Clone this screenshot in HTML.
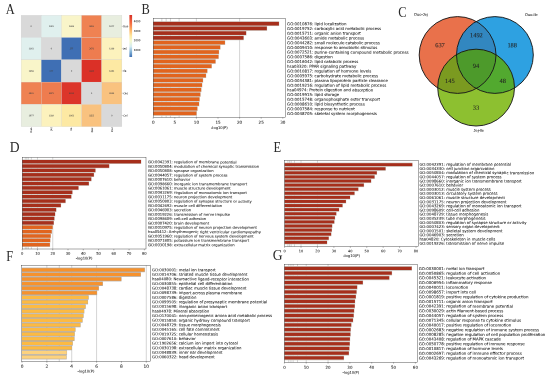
<!DOCTYPE html>
<html><head><meta charset="utf-8"><title>Figure</title>
<style>html,body{margin:0;padding:0;background:#fff}svg{display:block}</style></head>
<body>
<svg width="550" height="378" viewBox="0 0 550 378">
<rect width="550" height="378" fill="#ffffff"/>
<defs><filter id="soft" filterUnits="userSpaceOnUse" x="-10" y="-10" width="570" height="398" color-interpolation-filters="sRGB"><feGaussianBlur stdDeviation="0.4"/></filter></defs>
<g filter="url(#soft)">
<rect x="-10" y="-10" width="570" height="398" fill="#ffffff"/>
<text transform="translate(5.8,13.7) scale(0.89,1)" font-family="Liberation Serif, serif" font-size="14.0" fill="#2a2a2a">A</text>
<text transform="translate(141.4,13.7) scale(0.89,1)" font-family="Liberation Serif, serif" font-size="14.0" fill="#2a2a2a">B</text>
<text transform="translate(398.3,16.6) scale(0.89,1)" font-family="Liberation Serif, serif" font-size="14.0" fill="#2a2a2a">C</text>
<text transform="translate(9.7,151.7) scale(0.97,1)" font-family="Liberation Serif, serif" font-size="14.0" fill="#2a2a2a">D</text>
<text transform="translate(273.6,151.7) scale(0.89,1)" font-family="Liberation Serif, serif" font-size="14.0" fill="#2a2a2a">E</text>
<text transform="translate(6.2,261.3) scale(0.89,1)" font-family="Liberation Serif, serif" font-size="14.0" fill="#2a2a2a">F</text>
<text transform="translate(272.7,259.9) scale(0.97,1)" font-family="Liberation Serif, serif" font-size="14.0" fill="#2a2a2a">G</text>
<rect x="21.10" y="15.25" width="20.20" height="22.33" fill="#d9d9d9" stroke="#cfcfcf" stroke-width="0.25"/>
<text transform="translate(31.18,27.09) skewY(0.03) scale(0.1)" font-family="DejaVu Sans, Liberation Sans, sans-serif" font-size="19.00" text-anchor="middle" fill="#444" stroke="#444" stroke-width="0.50">0</text>
<rect x="41.25" y="15.25" width="20.20" height="22.33" fill="#e0f0ee" stroke="#cfcfcf" stroke-width="0.25"/>
<text transform="translate(51.33,27.09) skewY(0.03) scale(0.1)" font-family="DejaVu Sans, Liberation Sans, sans-serif" font-size="19.00" text-anchor="middle" fill="#444" stroke="#444" stroke-width="0.50">1261</text>
<rect x="61.40" y="15.25" width="20.20" height="22.33" fill="#f9f5c9" stroke="#cfcfcf" stroke-width="0.25"/>
<text transform="translate(71.47,27.09) skewY(0.03) scale(0.1)" font-family="DejaVu Sans, Liberation Sans, sans-serif" font-size="19.00" text-anchor="middle" fill="#444" stroke="#444" stroke-width="0.50">1869</text>
<rect x="81.55" y="15.25" width="20.20" height="22.33" fill="#ef8252" stroke="#cfcfcf" stroke-width="0.25"/>
<text transform="translate(91.62,27.09) skewY(0.03) scale(0.1)" font-family="DejaVu Sans, Liberation Sans, sans-serif" font-size="19.00" text-anchor="middle" fill="#444" stroke="#444" stroke-width="0.50">3622</text>
<rect x="101.70" y="15.25" width="20.20" height="22.33" fill="#e8eedf" stroke="#cfcfcf" stroke-width="0.25"/>
<text transform="translate(111.77,27.09) skewY(0.03) scale(0.1)" font-family="DejaVu Sans, Liberation Sans, sans-serif" font-size="19.00" text-anchor="middle" fill="#444" stroke="#444" stroke-width="0.50">1677</text>
<line x1="121.85" y1="26.39" x2="122.75" y2="26.39" stroke="#333" stroke-width="0.3"/>
<text transform="translate(123.35,27.29) skewY(0.03) scale(0.1)" font-family="DejaVu Sans, Liberation Sans, sans-serif" font-size="25.00" text-anchor="start" fill="#222" stroke="#222" stroke-width="0.50">Duo</text>
<rect x="21.10" y="37.53" width="20.20" height="22.33" fill="#e0f0ee" stroke="#cfcfcf" stroke-width="0.25"/>
<text transform="translate(31.18,49.37) skewY(0.03) scale(0.1)" font-family="DejaVu Sans, Liberation Sans, sans-serif" font-size="19.00" text-anchor="middle" fill="#444" stroke="#444" stroke-width="0.50">1261</text>
<rect x="41.25" y="37.53" width="20.20" height="22.33" fill="#d9d9d9" stroke="#cfcfcf" stroke-width="0.25"/>
<text transform="translate(51.33,49.37) skewY(0.03) scale(0.1)" font-family="DejaVu Sans, Liberation Sans, sans-serif" font-size="19.00" text-anchor="middle" fill="#444" stroke="#444" stroke-width="0.50">0</text>
<rect x="61.40" y="37.53" width="20.20" height="22.33" fill="#3f6fb4" stroke="#cfcfcf" stroke-width="0.25"/>
<text transform="translate(71.47,49.37) skewY(0.03) scale(0.1)" font-family="DejaVu Sans, Liberation Sans, sans-serif" font-size="19.00" text-anchor="middle" fill="#444" stroke="#444" stroke-width="0.50">377</text>
<rect x="81.55" y="37.53" width="20.20" height="22.33" fill="#ee7c4f" stroke="#cfcfcf" stroke-width="0.25"/>
<text transform="translate(91.62,49.37) skewY(0.03) scale(0.1)" font-family="DejaVu Sans, Liberation Sans, sans-serif" font-size="19.00" text-anchor="middle" fill="#444" stroke="#444" stroke-width="0.50">3671</text>
<rect x="101.70" y="37.53" width="20.20" height="22.33" fill="#fcf2bd" stroke="#cfcfcf" stroke-width="0.25"/>
<text transform="translate(111.77,49.37) skewY(0.03) scale(0.1)" font-family="DejaVu Sans, Liberation Sans, sans-serif" font-size="19.00" text-anchor="middle" fill="#444" stroke="#444" stroke-width="0.50">1289</text>
<line x1="121.85" y1="48.67" x2="122.75" y2="48.67" stroke="#333" stroke-width="0.3"/>
<text transform="translate(123.35,49.57) skewY(0.03) scale(0.1)" font-family="DejaVu Sans, Liberation Sans, sans-serif" font-size="25.00" text-anchor="start" fill="#222" stroke="#222" stroke-width="0.50">Jej</text>
<rect x="21.10" y="59.81" width="20.20" height="22.33" fill="#f9f5c9" stroke="#cfcfcf" stroke-width="0.25"/>
<text transform="translate(31.18,71.65) skewY(0.03) scale(0.1)" font-family="DejaVu Sans, Liberation Sans, sans-serif" font-size="19.00" text-anchor="middle" fill="#444" stroke="#444" stroke-width="0.50">1869</text>
<rect x="41.25" y="59.81" width="20.20" height="22.33" fill="#3f6fb4" stroke="#cfcfcf" stroke-width="0.25"/>
<text transform="translate(51.33,71.65) skewY(0.03) scale(0.1)" font-family="DejaVu Sans, Liberation Sans, sans-serif" font-size="19.00" text-anchor="middle" fill="#444" stroke="#444" stroke-width="0.50">377</text>
<rect x="61.40" y="59.81" width="20.20" height="22.33" fill="#d9d9d9" stroke="#cfcfcf" stroke-width="0.25"/>
<text transform="translate(71.47,71.65) skewY(0.03) scale(0.1)" font-family="DejaVu Sans, Liberation Sans, sans-serif" font-size="19.00" text-anchor="middle" fill="#444" stroke="#444" stroke-width="0.50">0</text>
<rect x="81.55" y="59.81" width="20.20" height="22.33" fill="#db3027" stroke="#cfcfcf" stroke-width="0.25"/>
<text transform="translate(91.62,71.65) skewY(0.03) scale(0.1)" font-family="DejaVu Sans, Liberation Sans, sans-serif" font-size="19.00" text-anchor="middle" fill="#444" stroke="#444" stroke-width="0.50">4225</text>
<rect x="101.70" y="59.81" width="20.20" height="22.33" fill="#fde9a3" stroke="#cfcfcf" stroke-width="0.25"/>
<text transform="translate(111.77,71.65) skewY(0.03) scale(0.1)" font-family="DejaVu Sans, Liberation Sans, sans-serif" font-size="19.00" text-anchor="middle" fill="#444" stroke="#444" stroke-width="0.50">1861</text>
<line x1="121.85" y1="70.95" x2="122.75" y2="70.95" stroke="#333" stroke-width="0.3"/>
<text transform="translate(123.35,71.85) skewY(0.03) scale(0.1)" font-family="DejaVu Sans, Liberation Sans, sans-serif" font-size="25.00" text-anchor="start" fill="#222" stroke="#222" stroke-width="0.50">Ile</text>
<rect x="21.10" y="82.09" width="20.20" height="22.33" fill="#ef8252" stroke="#cfcfcf" stroke-width="0.25"/>
<text transform="translate(31.18,93.93) skewY(0.03) scale(0.1)" font-family="DejaVu Sans, Liberation Sans, sans-serif" font-size="19.00" text-anchor="middle" fill="#444" stroke="#444" stroke-width="0.50">3622</text>
<rect x="41.25" y="82.09" width="20.20" height="22.33" fill="#ee7c4f" stroke="#cfcfcf" stroke-width="0.25"/>
<text transform="translate(51.33,93.93) skewY(0.03) scale(0.1)" font-family="DejaVu Sans, Liberation Sans, sans-serif" font-size="19.00" text-anchor="middle" fill="#444" stroke="#444" stroke-width="0.50">3671</text>
<rect x="61.40" y="82.09" width="20.20" height="22.33" fill="#dc352a" stroke="#cfcfcf" stroke-width="0.25"/>
<text transform="translate(71.47,93.93) skewY(0.03) scale(0.1)" font-family="DejaVu Sans, Liberation Sans, sans-serif" font-size="19.00" text-anchor="middle" fill="#444" stroke="#444" stroke-width="0.50">4225</text>
<rect x="81.55" y="82.09" width="20.20" height="22.33" fill="#d9d9d9" stroke="#cfcfcf" stroke-width="0.25"/>
<text transform="translate(91.62,93.93) skewY(0.03) scale(0.1)" font-family="DejaVu Sans, Liberation Sans, sans-serif" font-size="19.00" text-anchor="middle" fill="#444" stroke="#444" stroke-width="0.50">0</text>
<rect x="101.70" y="82.09" width="20.20" height="22.33" fill="#f9c27f" stroke="#cfcfcf" stroke-width="0.25"/>
<text transform="translate(111.77,93.93) skewY(0.03) scale(0.1)" font-family="DejaVu Sans, Liberation Sans, sans-serif" font-size="19.00" text-anchor="middle" fill="#444" stroke="#444" stroke-width="0.50">2553</text>
<line x1="121.85" y1="93.23" x2="122.75" y2="93.23" stroke="#333" stroke-width="0.3"/>
<text transform="translate(123.35,94.13) skewY(0.03) scale(0.1)" font-family="DejaVu Sans, Liberation Sans, sans-serif" font-size="25.00" text-anchor="start" fill="#222" stroke="#222" stroke-width="0.50">Cec</text>
<rect x="21.10" y="104.37" width="20.20" height="22.33" fill="#e8eedf" stroke="#cfcfcf" stroke-width="0.25"/>
<text transform="translate(31.18,116.21) skewY(0.03) scale(0.1)" font-family="DejaVu Sans, Liberation Sans, sans-serif" font-size="19.00" text-anchor="middle" fill="#444" stroke="#444" stroke-width="0.50">1677</text>
<rect x="41.25" y="104.37" width="20.20" height="22.33" fill="#fcf2bd" stroke="#cfcfcf" stroke-width="0.25"/>
<text transform="translate(51.33,116.21) skewY(0.03) scale(0.1)" font-family="DejaVu Sans, Liberation Sans, sans-serif" font-size="19.00" text-anchor="middle" fill="#444" stroke="#444" stroke-width="0.50">1289</text>
<rect x="61.40" y="104.37" width="20.20" height="22.33" fill="#fde9a3" stroke="#cfcfcf" stroke-width="0.25"/>
<text transform="translate(71.47,116.21) skewY(0.03) scale(0.1)" font-family="DejaVu Sans, Liberation Sans, sans-serif" font-size="19.00" text-anchor="middle" fill="#444" stroke="#444" stroke-width="0.50">1861</text>
<rect x="81.55" y="104.37" width="20.20" height="22.33" fill="#f9c27f" stroke="#cfcfcf" stroke-width="0.25"/>
<text transform="translate(91.62,116.21) skewY(0.03) scale(0.1)" font-family="DejaVu Sans, Liberation Sans, sans-serif" font-size="19.00" text-anchor="middle" fill="#444" stroke="#444" stroke-width="0.50">2553</text>
<rect x="101.70" y="104.37" width="20.20" height="22.33" fill="#d9d9d9" stroke="#cfcfcf" stroke-width="0.25"/>
<text transform="translate(111.77,116.21) skewY(0.03) scale(0.1)" font-family="DejaVu Sans, Liberation Sans, sans-serif" font-size="19.00" text-anchor="middle" fill="#444" stroke="#444" stroke-width="0.50">0</text>
<line x1="121.85" y1="115.51" x2="122.75" y2="115.51" stroke="#333" stroke-width="0.3"/>
<text transform="translate(123.35,116.41) skewY(0.03) scale(0.1)" font-family="DejaVu Sans, Liberation Sans, sans-serif" font-size="25.00" text-anchor="start" fill="#222" stroke="#222" stroke-width="0.50">Col</text>
<text transform="translate(32.08,127.65) rotate(-90) scale(0.1)" font-family="DejaVu Sans, Liberation Sans, sans-serif" font-size="25" text-anchor="end" fill="#222" stroke="#222" stroke-width="0.5">Duo</text>
<text transform="translate(52.23,127.65) rotate(-90) scale(0.1)" font-family="DejaVu Sans, Liberation Sans, sans-serif" font-size="25" text-anchor="end" fill="#222" stroke="#222" stroke-width="0.5">Jej</text>
<text transform="translate(72.38,127.65) rotate(-90) scale(0.1)" font-family="DejaVu Sans, Liberation Sans, sans-serif" font-size="25" text-anchor="end" fill="#222" stroke="#222" stroke-width="0.5">Ile</text>
<text transform="translate(92.53,127.65) rotate(-90) scale(0.1)" font-family="DejaVu Sans, Liberation Sans, sans-serif" font-size="25" text-anchor="end" fill="#222" stroke="#222" stroke-width="0.5">Cec</text>
<text transform="translate(112.67,127.65) rotate(-90) scale(0.1)" font-family="DejaVu Sans, Liberation Sans, sans-serif" font-size="25" text-anchor="end" fill="#222" stroke="#222" stroke-width="0.5">Col</text>
<defs><linearGradient id="cb" x1="0" y1="0" x2="0" y2="1"><stop offset="0" stop-color="#d73027"/><stop offset="0.2" stop-color="#f46d43"/><stop offset="0.35" stop-color="#fdae61"/><stop offset="0.5" stop-color="#fee9a0"/><stop offset="0.62" stop-color="#f4f8d0"/><stop offset="0.75" stop-color="#d5ebf0"/><stop offset="0.88" stop-color="#7fb0d5"/><stop offset="1" stop-color="#3f6fb4"/></linearGradient></defs>
<rect x="129.4" y="15.0" width="2.7" height="42.0" fill="url(#cb)"/>
<text transform="translate(133.80,22.25) skewY(0.03) scale(0.1)" font-family="DejaVu Sans, Liberation Sans, sans-serif" font-size="26.00" text-anchor="start" fill="#222" stroke="#222" stroke-width="0.50">4000</text>
<text transform="translate(133.80,31.95) skewY(0.03) scale(0.1)" font-family="DejaVu Sans, Liberation Sans, sans-serif" font-size="26.00" text-anchor="start" fill="#222" stroke="#222" stroke-width="0.50">3000</text>
<text transform="translate(133.80,41.35) skewY(0.03) scale(0.1)" font-family="DejaVu Sans, Liberation Sans, sans-serif" font-size="26.00" text-anchor="start" fill="#222" stroke="#222" stroke-width="0.50">2000</text>
<text transform="translate(133.80,50.95) skewY(0.03) scale(0.1)" font-family="DejaVu Sans, Liberation Sans, sans-serif" font-size="26.00" text-anchor="start" fill="#222" stroke="#222" stroke-width="0.50">1000</text>
<line x1="161.84" y1="18.4" x2="161.84" y2="117.4" stroke="#909090" stroke-width="0.38"/>
<line x1="166.16" y1="18.4" x2="166.16" y2="117.4" stroke="#909090" stroke-width="0.38"/>
<line x1="170.48" y1="18.4" x2="170.48" y2="117.4" stroke="#909090" stroke-width="0.38"/>
<line x1="179.12" y1="18.4" x2="179.12" y2="117.4" stroke="#909090" stroke-width="0.38"/>
<line x1="196.40" y1="18.4" x2="196.40" y2="117.4" stroke="#909090" stroke-width="0.38"/>
<line x1="239.60" y1="18.4" x2="239.60" y2="117.4" stroke="#909090" stroke-width="0.38"/>
<rect x="153.20" y="21.34" width="126.01" height="4.72" fill="#c9c5bf"/>
<rect x="153.20" y="21.90" width="125.71" height="3.60" fill="#a62f1c"/>
<rect x="153.20" y="26.06" width="113.92" height="4.72" fill="#c9c5bf"/>
<rect x="153.20" y="26.62" width="113.62" height="3.60" fill="#a62f1c"/>
<rect x="153.20" y="30.78" width="93.18" height="4.72" fill="#c9c5bf"/>
<rect x="153.20" y="31.34" width="92.88" height="3.60" fill="#a62f1c"/>
<rect x="153.20" y="35.50" width="90.59" height="4.72" fill="#c9c5bf"/>
<rect x="153.20" y="36.06" width="90.29" height="3.60" fill="#a62f1c"/>
<rect x="153.20" y="40.22" width="72.01" height="4.72" fill="#c9c5bf"/>
<rect x="153.20" y="40.78" width="71.71" height="3.60" fill="#e1641e"/>
<rect x="153.20" y="44.94" width="67.26" height="4.72" fill="#c9c5bf"/>
<rect x="153.20" y="45.50" width="66.96" height="3.60" fill="#e1641e"/>
<rect x="153.20" y="49.66" width="65.96" height="4.72" fill="#c9c5bf"/>
<rect x="153.20" y="50.22" width="65.66" height="3.60" fill="#e1641e"/>
<rect x="153.20" y="54.38" width="65.53" height="4.72" fill="#c9c5bf"/>
<rect x="153.20" y="54.94" width="65.23" height="3.60" fill="#e1641e"/>
<rect x="153.20" y="59.10" width="62.51" height="4.72" fill="#c9c5bf"/>
<rect x="153.20" y="59.66" width="62.21" height="3.60" fill="#e1641e"/>
<rect x="153.20" y="63.82" width="58.62" height="4.72" fill="#c9c5bf"/>
<rect x="153.20" y="64.38" width="58.32" height="3.60" fill="#e1641e"/>
<rect x="153.20" y="68.54" width="54.30" height="4.72" fill="#c9c5bf"/>
<rect x="153.20" y="69.10" width="54.00" height="3.60" fill="#e1641e"/>
<rect x="153.20" y="73.26" width="53.00" height="4.72" fill="#c9c5bf"/>
<rect x="153.20" y="73.82" width="52.70" height="3.60" fill="#e1641e"/>
<rect x="153.20" y="77.98" width="49.98" height="4.72" fill="#c9c5bf"/>
<rect x="153.20" y="78.54" width="49.68" height="3.60" fill="#e1641e"/>
<rect x="153.20" y="82.70" width="49.12" height="4.72" fill="#c9c5bf"/>
<rect x="153.20" y="83.26" width="48.82" height="3.60" fill="#e1641e"/>
<rect x="153.20" y="87.42" width="48.25" height="4.72" fill="#c9c5bf"/>
<rect x="153.20" y="87.98" width="47.95" height="3.60" fill="#e1641e"/>
<rect x="153.20" y="92.14" width="47.39" height="4.72" fill="#c9c5bf"/>
<rect x="153.20" y="92.70" width="47.09" height="3.60" fill="#e1641e"/>
<rect x="153.20" y="96.86" width="46.52" height="4.72" fill="#c9c5bf"/>
<rect x="153.20" y="97.42" width="46.22" height="3.60" fill="#e1641e"/>
<rect x="153.20" y="101.58" width="46.09" height="4.72" fill="#c9c5bf"/>
<rect x="153.20" y="102.14" width="45.79" height="3.60" fill="#e1641e"/>
<rect x="153.20" y="106.30" width="44.36" height="4.72" fill="#c9c5bf"/>
<rect x="153.20" y="106.86" width="44.06" height="3.60" fill="#e1641e"/>
<rect x="153.20" y="111.02" width="43.50" height="4.72" fill="#c9c5bf"/>
<rect x="153.20" y="111.58" width="43.20" height="3.60" fill="#e1641e"/>
<rect x="153.2" y="18.4" width="132.40" height="99.00" fill="none" stroke="#2b2b2b" stroke-width="0.4"/>
<line x1="153.20" y1="117.4" x2="153.20" y2="118.70" stroke="#2b2b2b" stroke-width="0.35"/>
<text transform="translate(153.20,123.80) skewY(0.03) scale(0.1)" font-family="DejaVu Sans, Liberation Sans, sans-serif" font-size="41.00" text-anchor="middle" fill="#1a1a1a" stroke="#1a1a1a" stroke-width="0.60">0</text>
<line x1="174.80" y1="117.4" x2="174.80" y2="118.70" stroke="#2b2b2b" stroke-width="0.35"/>
<text transform="translate(174.80,123.80) skewY(0.03) scale(0.1)" font-family="DejaVu Sans, Liberation Sans, sans-serif" font-size="41.00" text-anchor="middle" fill="#1a1a1a" stroke="#1a1a1a" stroke-width="0.60">5</text>
<line x1="196.40" y1="117.4" x2="196.40" y2="118.70" stroke="#2b2b2b" stroke-width="0.35"/>
<text transform="translate(196.40,123.80) skewY(0.03) scale(0.1)" font-family="DejaVu Sans, Liberation Sans, sans-serif" font-size="41.00" text-anchor="middle" fill="#1a1a1a" stroke="#1a1a1a" stroke-width="0.60">10</text>
<line x1="218.00" y1="117.4" x2="218.00" y2="118.70" stroke="#2b2b2b" stroke-width="0.35"/>
<text transform="translate(218.00,123.80) skewY(0.03) scale(0.1)" font-family="DejaVu Sans, Liberation Sans, sans-serif" font-size="41.00" text-anchor="middle" fill="#1a1a1a" stroke="#1a1a1a" stroke-width="0.60">15</text>
<line x1="239.60" y1="117.4" x2="239.60" y2="118.70" stroke="#2b2b2b" stroke-width="0.35"/>
<text transform="translate(239.60,123.80) skewY(0.03) scale(0.1)" font-family="DejaVu Sans, Liberation Sans, sans-serif" font-size="41.00" text-anchor="middle" fill="#1a1a1a" stroke="#1a1a1a" stroke-width="0.60">20</text>
<line x1="261.20" y1="117.4" x2="261.20" y2="118.70" stroke="#2b2b2b" stroke-width="0.35"/>
<text transform="translate(261.20,123.80) skewY(0.03) scale(0.1)" font-family="DejaVu Sans, Liberation Sans, sans-serif" font-size="41.00" text-anchor="middle" fill="#1a1a1a" stroke="#1a1a1a" stroke-width="0.60">25</text>
<line x1="282.80" y1="117.4" x2="282.80" y2="118.70" stroke="#2b2b2b" stroke-width="0.35"/>
<text transform="translate(282.80,123.80) skewY(0.03) scale(0.1)" font-family="DejaVu Sans, Liberation Sans, sans-serif" font-size="41.00" text-anchor="middle" fill="#1a1a1a" stroke="#1a1a1a" stroke-width="0.60">30</text>
<text transform="translate(219.40,129.01) skewY(0.03) scale(0.1)" font-family="DejaVu Sans, Liberation Sans, sans-serif" font-size="37.00" text-anchor="middle" fill="#1a1a1a" stroke="#1a1a1a" stroke-width="0.50">-log10(P)</text>
<text transform="translate(287.10,25.32) skewY(0.03) scale(0.1)" font-family="DejaVu Sans, Liberation Sans, sans-serif" font-size="39.40" text-anchor="start" fill="#1a1a1a" stroke="#1a1a1a" stroke-width="0.60">GO:0010876: lipid localization</text>
<text transform="translate(287.10,30.03) skewY(0.03) scale(0.1)" font-family="DejaVu Sans, Liberation Sans, sans-serif" font-size="39.40" text-anchor="start" fill="#1a1a1a" stroke="#1a1a1a" stroke-width="0.60">GO:0019752: carboxylic acid metabolic process</text>
<text transform="translate(287.10,34.75) skewY(0.03) scale(0.1)" font-family="DejaVu Sans, Liberation Sans, sans-serif" font-size="39.40" text-anchor="start" fill="#1a1a1a" stroke="#1a1a1a" stroke-width="0.60">GO:0015711: organic anion transport</text>
<text transform="translate(287.10,39.47) skewY(0.03) scale(0.1)" font-family="DejaVu Sans, Liberation Sans, sans-serif" font-size="39.40" text-anchor="start" fill="#1a1a1a" stroke="#1a1a1a" stroke-width="0.60">GO:0043603: amide metabolic process</text>
<text transform="translate(287.10,44.18) skewY(0.03) scale(0.1)" font-family="DejaVu Sans, Liberation Sans, sans-serif" font-size="39.40" text-anchor="start" fill="#1a1a1a" stroke="#1a1a1a" stroke-width="0.60">GO:0044282: small molecule catabolic process</text>
<text transform="translate(287.10,48.90) skewY(0.03) scale(0.1)" font-family="DejaVu Sans, Liberation Sans, sans-serif" font-size="39.40" text-anchor="start" fill="#1a1a1a" stroke="#1a1a1a" stroke-width="0.60">GO:0009410: response to xenobiotic stimulus</text>
<text transform="translate(287.10,53.61) skewY(0.03) scale(0.1)" font-family="DejaVu Sans, Liberation Sans, sans-serif" font-size="39.40" text-anchor="start" fill="#1a1a1a" stroke="#1a1a1a" stroke-width="0.60">GO:0072521: purine-containing compound metabolic process</text>
<text transform="translate(287.10,58.33) skewY(0.03) scale(0.1)" font-family="DejaVu Sans, Liberation Sans, sans-serif" font-size="39.40" text-anchor="start" fill="#1a1a1a" stroke="#1a1a1a" stroke-width="0.60">GO:0007586: digestion</text>
<text transform="translate(287.10,63.05) skewY(0.03) scale(0.1)" font-family="DejaVu Sans, Liberation Sans, sans-serif" font-size="39.40" text-anchor="start" fill="#1a1a1a" stroke="#1a1a1a" stroke-width="0.60">GO:0016042: lipid catabolic process</text>
<text transform="translate(287.10,67.76) skewY(0.03) scale(0.1)" font-family="DejaVu Sans, Liberation Sans, sans-serif" font-size="39.40" text-anchor="start" fill="#1a1a1a" stroke="#1a1a1a" stroke-width="0.60">hsa03320: PPAR signaling pathway</text>
<text transform="translate(287.10,72.48) skewY(0.03) scale(0.1)" font-family="DejaVu Sans, Liberation Sans, sans-serif" font-size="39.40" text-anchor="start" fill="#1a1a1a" stroke="#1a1a1a" stroke-width="0.60">GO:0010817: regulation of hormone levels</text>
<text transform="translate(287.10,77.19) skewY(0.03) scale(0.1)" font-family="DejaVu Sans, Liberation Sans, sans-serif" font-size="39.40" text-anchor="start" fill="#1a1a1a" stroke="#1a1a1a" stroke-width="0.60">GO:0005975: carbohydrate metabolic process</text>
<text transform="translate(287.10,81.91) skewY(0.03) scale(0.1)" font-family="DejaVu Sans, Liberation Sans, sans-serif" font-size="39.40" text-anchor="start" fill="#1a1a1a" stroke="#1a1a1a" stroke-width="0.60">GO:0034381: plasma lipoprotein particle clearance</text>
<text transform="translate(287.10,86.63) skewY(0.03) scale(0.1)" font-family="DejaVu Sans, Liberation Sans, sans-serif" font-size="39.40" text-anchor="start" fill="#1a1a1a" stroke="#1a1a1a" stroke-width="0.60">GO:0019216: regulation of lipid metabolic process</text>
<text transform="translate(287.10,91.34) skewY(0.03) scale(0.1)" font-family="DejaVu Sans, Liberation Sans, sans-serif" font-size="39.40" text-anchor="start" fill="#1a1a1a" stroke="#1a1a1a" stroke-width="0.60">hsa04974: Protein digestion and absorption</text>
<text transform="translate(287.10,96.06) skewY(0.03) scale(0.1)" font-family="DejaVu Sans, Liberation Sans, sans-serif" font-size="39.40" text-anchor="start" fill="#1a1a1a" stroke="#1a1a1a" stroke-width="0.60">GO:0019915: lipid storage</text>
<text transform="translate(287.10,100.77) skewY(0.03) scale(0.1)" font-family="DejaVu Sans, Liberation Sans, sans-serif" font-size="39.40" text-anchor="start" fill="#1a1a1a" stroke="#1a1a1a" stroke-width="0.60">GO:0015748: organophosphate ester transport</text>
<text transform="translate(287.10,105.49) skewY(0.03) scale(0.1)" font-family="DejaVu Sans, Liberation Sans, sans-serif" font-size="39.40" text-anchor="start" fill="#1a1a1a" stroke="#1a1a1a" stroke-width="0.60">GO:0008610: lipid biosynthetic process</text>
<text transform="translate(287.10,110.21) skewY(0.03) scale(0.1)" font-family="DejaVu Sans, Liberation Sans, sans-serif" font-size="39.40" text-anchor="start" fill="#1a1a1a" stroke="#1a1a1a" stroke-width="0.60">GO:0007584: response to nutrient</text>
<text transform="translate(287.10,114.92) skewY(0.03) scale(0.1)" font-family="DejaVu Sans, Liberation Sans, sans-serif" font-size="39.40" text-anchor="start" fill="#1a1a1a" stroke="#1a1a1a" stroke-width="0.60">GO:0048705: skeletal system morphogenesis</text>
<line x1="25.25" y1="157.4" x2="25.25" y2="249.0" stroke="#909090" stroke-width="0.38"/>
<line x1="26.78" y1="157.4" x2="26.78" y2="249.0" stroke="#909090" stroke-width="0.38"/>
<line x1="28.31" y1="157.4" x2="28.31" y2="249.0" stroke="#909090" stroke-width="0.38"/>
<line x1="31.36" y1="157.4" x2="31.36" y2="249.0" stroke="#909090" stroke-width="0.38"/>
<line x1="37.47" y1="157.4" x2="37.47" y2="249.0" stroke="#909090" stroke-width="0.38"/>
<line x1="52.74" y1="157.4" x2="52.74" y2="249.0" stroke="#909090" stroke-width="0.38"/>
<rect x="22.20" y="159.51" width="119.10" height="4.37" fill="#c9c5bf"/>
<rect x="22.20" y="160.00" width="118.80" height="3.40" fill="#a62f1c"/>
<rect x="22.20" y="163.88" width="87.19" height="4.37" fill="#c9c5bf"/>
<rect x="22.20" y="164.37" width="86.89" height="3.40" fill="#a62f1c"/>
<rect x="22.20" y="168.25" width="73.44" height="4.37" fill="#c9c5bf"/>
<rect x="22.20" y="168.74" width="73.14" height="3.40" fill="#a62f1c"/>
<rect x="22.20" y="172.62" width="71.92" height="4.37" fill="#c9c5bf"/>
<rect x="22.20" y="173.11" width="71.62" height="3.40" fill="#a62f1c"/>
<rect x="22.20" y="176.99" width="69.32" height="4.37" fill="#c9c5bf"/>
<rect x="22.20" y="177.48" width="69.02" height="3.40" fill="#a62f1c"/>
<rect x="22.20" y="181.36" width="66.88" height="4.37" fill="#c9c5bf"/>
<rect x="22.20" y="181.85" width="66.58" height="3.40" fill="#a62f1c"/>
<rect x="22.20" y="185.73" width="56.49" height="4.37" fill="#c9c5bf"/>
<rect x="22.20" y="186.22" width="56.19" height="3.40" fill="#a62f1c"/>
<rect x="22.20" y="190.10" width="50.39" height="4.37" fill="#c9c5bf"/>
<rect x="22.20" y="190.59" width="50.09" height="3.40" fill="#a62f1c"/>
<rect x="22.20" y="194.47" width="49.32" height="4.37" fill="#c9c5bf"/>
<rect x="22.20" y="194.96" width="49.02" height="3.40" fill="#a62f1c"/>
<rect x="22.20" y="198.84" width="43.51" height="4.37" fill="#c9c5bf"/>
<rect x="22.20" y="199.33" width="43.21" height="3.40" fill="#a62f1c"/>
<rect x="22.20" y="203.21" width="38.93" height="4.37" fill="#c9c5bf"/>
<rect x="22.20" y="203.70" width="38.63" height="3.40" fill="#a62f1c"/>
<rect x="22.20" y="207.58" width="34.20" height="4.37" fill="#c9c5bf"/>
<rect x="22.20" y="208.07" width="33.90" height="3.40" fill="#a62f1c"/>
<rect x="22.20" y="211.95" width="33.13" height="4.37" fill="#c9c5bf"/>
<rect x="22.20" y="212.44" width="32.83" height="3.40" fill="#a62f1c"/>
<rect x="22.20" y="216.32" width="32.37" height="4.37" fill="#c9c5bf"/>
<rect x="22.20" y="216.81" width="32.07" height="3.40" fill="#a62f1c"/>
<rect x="22.20" y="220.69" width="31.76" height="4.37" fill="#c9c5bf"/>
<rect x="22.20" y="221.18" width="31.46" height="3.40" fill="#a62f1c"/>
<rect x="22.20" y="225.06" width="30.69" height="4.37" fill="#c9c5bf"/>
<rect x="22.20" y="225.55" width="30.39" height="3.40" fill="#e1641e"/>
<rect x="22.20" y="229.44" width="29.77" height="4.37" fill="#c9c5bf"/>
<rect x="22.20" y="229.92" width="29.47" height="3.40" fill="#e1641e"/>
<rect x="22.20" y="233.81" width="28.70" height="4.37" fill="#c9c5bf"/>
<rect x="22.20" y="234.29" width="28.40" height="3.40" fill="#e1641e"/>
<rect x="22.20" y="238.17" width="28.24" height="4.37" fill="#c9c5bf"/>
<rect x="22.20" y="238.66" width="27.94" height="3.40" fill="#e1641e"/>
<rect x="22.20" y="242.54" width="27.94" height="4.37" fill="#c9c5bf"/>
<rect x="22.20" y="243.03" width="27.64" height="3.40" fill="#e1641e"/>
<rect x="22.2" y="157.4" width="123.80" height="91.60" fill="none" stroke="#2b2b2b" stroke-width="0.4"/>
<line x1="22.20" y1="249.0" x2="22.20" y2="250.30" stroke="#2b2b2b" stroke-width="0.35"/>
<text transform="translate(22.20,254.85) skewY(0.03) scale(0.1)" font-family="DejaVu Sans, Liberation Sans, sans-serif" font-size="37.00" text-anchor="middle" fill="#1a1a1a" stroke="#1a1a1a" stroke-width="0.60">0</text>
<line x1="37.47" y1="249.0" x2="37.47" y2="250.30" stroke="#2b2b2b" stroke-width="0.35"/>
<text transform="translate(37.47,254.85) skewY(0.03) scale(0.1)" font-family="DejaVu Sans, Liberation Sans, sans-serif" font-size="37.00" text-anchor="middle" fill="#1a1a1a" stroke="#1a1a1a" stroke-width="0.60">10</text>
<line x1="52.74" y1="249.0" x2="52.74" y2="250.30" stroke="#2b2b2b" stroke-width="0.35"/>
<text transform="translate(52.74,254.85) skewY(0.03) scale(0.1)" font-family="DejaVu Sans, Liberation Sans, sans-serif" font-size="37.00" text-anchor="middle" fill="#1a1a1a" stroke="#1a1a1a" stroke-width="0.60">20</text>
<line x1="68.01" y1="249.0" x2="68.01" y2="250.30" stroke="#2b2b2b" stroke-width="0.35"/>
<text transform="translate(68.01,254.85) skewY(0.03) scale(0.1)" font-family="DejaVu Sans, Liberation Sans, sans-serif" font-size="37.00" text-anchor="middle" fill="#1a1a1a" stroke="#1a1a1a" stroke-width="0.60">30</text>
<line x1="83.28" y1="249.0" x2="83.28" y2="250.30" stroke="#2b2b2b" stroke-width="0.35"/>
<text transform="translate(83.28,254.85) skewY(0.03) scale(0.1)" font-family="DejaVu Sans, Liberation Sans, sans-serif" font-size="37.00" text-anchor="middle" fill="#1a1a1a" stroke="#1a1a1a" stroke-width="0.60">40</text>
<line x1="98.55" y1="249.0" x2="98.55" y2="250.30" stroke="#2b2b2b" stroke-width="0.35"/>
<text transform="translate(98.55,254.85) skewY(0.03) scale(0.1)" font-family="DejaVu Sans, Liberation Sans, sans-serif" font-size="37.00" text-anchor="middle" fill="#1a1a1a" stroke="#1a1a1a" stroke-width="0.60">50</text>
<line x1="113.82" y1="249.0" x2="113.82" y2="250.30" stroke="#2b2b2b" stroke-width="0.35"/>
<text transform="translate(113.82,254.85) skewY(0.03) scale(0.1)" font-family="DejaVu Sans, Liberation Sans, sans-serif" font-size="37.00" text-anchor="middle" fill="#1a1a1a" stroke="#1a1a1a" stroke-width="0.60">60</text>
<line x1="129.09" y1="249.0" x2="129.09" y2="250.30" stroke="#2b2b2b" stroke-width="0.35"/>
<text transform="translate(129.09,254.85) skewY(0.03) scale(0.1)" font-family="DejaVu Sans, Liberation Sans, sans-serif" font-size="37.00" text-anchor="middle" fill="#1a1a1a" stroke="#1a1a1a" stroke-width="0.60">70</text>
<line x1="144.36" y1="249.0" x2="144.36" y2="250.30" stroke="#2b2b2b" stroke-width="0.35"/>
<text transform="translate(144.36,254.85) skewY(0.03) scale(0.1)" font-family="DejaVu Sans, Liberation Sans, sans-serif" font-size="37.00" text-anchor="middle" fill="#1a1a1a" stroke="#1a1a1a" stroke-width="0.60">80</text>
<text transform="translate(84.10,259.41) skewY(0.03) scale(0.1)" font-family="DejaVu Sans, Liberation Sans, sans-serif" font-size="37.00" text-anchor="middle" fill="#1a1a1a" stroke="#1a1a1a" stroke-width="0.50">-log10(P)</text>
<text transform="translate(148.10,163.34) skewY(0.03) scale(0.1)" font-family="DejaVu Sans, Liberation Sans, sans-serif" font-size="37.10" text-anchor="start" fill="#1a1a1a" stroke="#1a1a1a" stroke-width="0.60">GO:0042391: regulation of membrane potential</text>
<text transform="translate(148.10,167.70) skewY(0.03) scale(0.1)" font-family="DejaVu Sans, Liberation Sans, sans-serif" font-size="37.10" text-anchor="start" fill="#1a1a1a" stroke="#1a1a1a" stroke-width="0.60">GO:0050804: modulation of chemical synaptic transmission</text>
<text transform="translate(148.10,172.06) skewY(0.03) scale(0.1)" font-family="DejaVu Sans, Liberation Sans, sans-serif" font-size="37.10" text-anchor="start" fill="#1a1a1a" stroke="#1a1a1a" stroke-width="0.60">GO:0050808: synapse organization</text>
<text transform="translate(148.10,176.42) skewY(0.03) scale(0.1)" font-family="DejaVu Sans, Liberation Sans, sans-serif" font-size="37.10" text-anchor="start" fill="#1a1a1a" stroke="#1a1a1a" stroke-width="0.60">GO:0044057: regulation of system process</text>
<text transform="translate(148.10,180.78) skewY(0.03) scale(0.1)" font-family="DejaVu Sans, Liberation Sans, sans-serif" font-size="37.10" text-anchor="start" fill="#1a1a1a" stroke="#1a1a1a" stroke-width="0.60">GO:0007610: behavior</text>
<text transform="translate(148.10,185.14) skewY(0.03) scale(0.1)" font-family="DejaVu Sans, Liberation Sans, sans-serif" font-size="37.10" text-anchor="start" fill="#1a1a1a" stroke="#1a1a1a" stroke-width="0.60">GO:0098660: inorganic ion transmembrane transport</text>
<text transform="translate(148.10,189.50) skewY(0.03) scale(0.1)" font-family="DejaVu Sans, Liberation Sans, sans-serif" font-size="37.10" text-anchor="start" fill="#1a1a1a" stroke="#1a1a1a" stroke-width="0.60">GO:0061061: muscle structure development</text>
<text transform="translate(148.10,193.86) skewY(0.03) scale(0.1)" font-family="DejaVu Sans, Liberation Sans, sans-serif" font-size="37.10" text-anchor="start" fill="#1a1a1a" stroke="#1a1a1a" stroke-width="0.60">GO:0043269: regulation of monoatomic ion transport</text>
<text transform="translate(148.10,198.22) skewY(0.03) scale(0.1)" font-family="DejaVu Sans, Liberation Sans, sans-serif" font-size="37.10" text-anchor="start" fill="#1a1a1a" stroke="#1a1a1a" stroke-width="0.60">GO:0031175: neuron projection development</text>
<text transform="translate(148.10,202.58) skewY(0.03) scale(0.1)" font-family="DejaVu Sans, Liberation Sans, sans-serif" font-size="37.10" text-anchor="start" fill="#1a1a1a" stroke="#1a1a1a" stroke-width="0.60">GO:0050803: regulation of synapse structure or activity</text>
<text transform="translate(148.10,206.94) skewY(0.03) scale(0.1)" font-family="DejaVu Sans, Liberation Sans, sans-serif" font-size="37.10" text-anchor="start" fill="#1a1a1a" stroke="#1a1a1a" stroke-width="0.60">GO:0042692: muscle cell differentiation</text>
<text transform="translate(148.10,211.30) skewY(0.03) scale(0.1)" font-family="DejaVu Sans, Liberation Sans, sans-serif" font-size="37.10" text-anchor="start" fill="#1a1a1a" stroke="#1a1a1a" stroke-width="0.60">GO:0046903: secretion</text>
<text transform="translate(148.10,215.66) skewY(0.03) scale(0.1)" font-family="DejaVu Sans, Liberation Sans, sans-serif" font-size="37.10" text-anchor="start" fill="#1a1a1a" stroke="#1a1a1a" stroke-width="0.60">GO:0019226: transmission of nerve impulse</text>
<text transform="translate(148.10,220.02) skewY(0.03) scale(0.1)" font-family="DejaVu Sans, Liberation Sans, sans-serif" font-size="37.10" text-anchor="start" fill="#1a1a1a" stroke="#1a1a1a" stroke-width="0.60">GO:0098609: cell-cell adhesion</text>
<text transform="translate(148.10,224.38) skewY(0.03) scale(0.1)" font-family="DejaVu Sans, Liberation Sans, sans-serif" font-size="37.10" text-anchor="start" fill="#1a1a1a" stroke="#1a1a1a" stroke-width="0.60">GO:0007420: brain development</text>
<text transform="translate(148.10,228.74) skewY(0.03) scale(0.1)" font-family="DejaVu Sans, Liberation Sans, sans-serif" font-size="37.10" text-anchor="start" fill="#1a1a1a" stroke="#1a1a1a" stroke-width="0.60">GO:0010975: regulation of neuron projection development</text>
<text transform="translate(148.10,233.10) skewY(0.03) scale(0.1)" font-family="DejaVu Sans, Liberation Sans, sans-serif" font-size="37.10" text-anchor="start" fill="#1a1a1a" stroke="#1a1a1a" stroke-width="0.60">hsa05412: Arrhythmogenic right ventricular cardiomyopathy</text>
<text transform="translate(148.10,237.46) skewY(0.03) scale(0.1)" font-family="DejaVu Sans, Liberation Sans, sans-serif" font-size="37.10" text-anchor="start" fill="#1a1a1a" stroke="#1a1a1a" stroke-width="0.60">GO:0051960: regulation of nervous system development</text>
<text transform="translate(148.10,241.82) skewY(0.03) scale(0.1)" font-family="DejaVu Sans, Liberation Sans, sans-serif" font-size="37.10" text-anchor="start" fill="#1a1a1a" stroke="#1a1a1a" stroke-width="0.60">GO:0071805: potassium ion transmembrane transport</text>
<text transform="translate(148.10,246.18) skewY(0.03) scale(0.1)" font-family="DejaVu Sans, Liberation Sans, sans-serif" font-size="37.10" text-anchor="start" fill="#1a1a1a" stroke="#1a1a1a" stroke-width="0.60">GO:0030198: extracellular matrix organization</text>
<line x1="287.89" y1="160.6" x2="287.89" y2="246.6" stroke="#909090" stroke-width="0.38"/>
<line x1="289.53" y1="160.6" x2="289.53" y2="246.6" stroke="#909090" stroke-width="0.38"/>
<line x1="291.17" y1="160.6" x2="291.17" y2="246.6" stroke="#909090" stroke-width="0.38"/>
<line x1="294.46" y1="160.6" x2="294.46" y2="246.6" stroke="#909090" stroke-width="0.38"/>
<line x1="301.03" y1="160.6" x2="301.03" y2="246.6" stroke="#909090" stroke-width="0.38"/>
<line x1="317.46" y1="160.6" x2="317.46" y2="246.6" stroke="#909090" stroke-width="0.38"/>
<rect x="284.60" y="162.60" width="127.96" height="4.09" fill="#c9c5bf"/>
<rect x="284.60" y="163.20" width="127.66" height="2.90" fill="#a62f1c"/>
<rect x="284.60" y="166.69" width="101.18" height="4.09" fill="#c9c5bf"/>
<rect x="284.60" y="167.29" width="100.88" height="2.90" fill="#a62f1c"/>
<rect x="284.60" y="170.78" width="92.47" height="4.09" fill="#c9c5bf"/>
<rect x="284.60" y="171.38" width="92.17" height="2.90" fill="#a62f1c"/>
<rect x="284.60" y="174.88" width="90.17" height="4.09" fill="#c9c5bf"/>
<rect x="284.60" y="175.47" width="89.87" height="2.90" fill="#a62f1c"/>
<rect x="284.60" y="178.97" width="86.72" height="4.09" fill="#c9c5bf"/>
<rect x="284.60" y="179.56" width="86.42" height="2.90" fill="#a62f1c"/>
<rect x="284.60" y="183.05" width="79.49" height="4.09" fill="#c9c5bf"/>
<rect x="284.60" y="183.65" width="79.19" height="2.90" fill="#a62f1c"/>
<rect x="284.60" y="187.14" width="73.91" height="4.09" fill="#c9c5bf"/>
<rect x="284.60" y="187.74" width="73.61" height="2.90" fill="#a62f1c"/>
<rect x="284.60" y="191.23" width="70.13" height="4.09" fill="#c9c5bf"/>
<rect x="284.60" y="191.83" width="69.83" height="2.90" fill="#a62f1c"/>
<rect x="284.60" y="195.32" width="65.69" height="4.09" fill="#c9c5bf"/>
<rect x="284.60" y="195.92" width="65.39" height="2.90" fill="#a62f1c"/>
<rect x="284.60" y="199.41" width="61.58" height="4.09" fill="#c9c5bf"/>
<rect x="284.60" y="200.01" width="61.28" height="2.90" fill="#a62f1c"/>
<rect x="284.60" y="203.50" width="58.13" height="4.09" fill="#c9c5bf"/>
<rect x="284.60" y="204.10" width="57.83" height="2.90" fill="#a62f1c"/>
<rect x="284.60" y="207.59" width="54.68" height="4.09" fill="#c9c5bf"/>
<rect x="284.60" y="208.19" width="54.38" height="2.90" fill="#a62f1c"/>
<rect x="284.60" y="211.68" width="51.89" height="4.09" fill="#c9c5bf"/>
<rect x="284.60" y="212.28" width="51.59" height="2.90" fill="#a62f1c"/>
<rect x="284.60" y="215.78" width="50.58" height="4.09" fill="#c9c5bf"/>
<rect x="284.60" y="216.37" width="50.28" height="2.90" fill="#a62f1c"/>
<rect x="284.60" y="219.86" width="49.92" height="4.09" fill="#c9c5bf"/>
<rect x="284.60" y="220.46" width="49.62" height="2.90" fill="#a62f1c"/>
<rect x="284.60" y="223.95" width="47.78" height="4.09" fill="#c9c5bf"/>
<rect x="284.60" y="224.55" width="47.48" height="2.90" fill="#a62f1c"/>
<rect x="284.60" y="228.04" width="47.45" height="4.09" fill="#c9c5bf"/>
<rect x="284.60" y="228.64" width="47.15" height="2.90" fill="#a62f1c"/>
<rect x="284.60" y="232.13" width="46.80" height="4.09" fill="#c9c5bf"/>
<rect x="284.60" y="232.73" width="46.50" height="2.90" fill="#a62f1c"/>
<rect x="284.60" y="236.22" width="44.33" height="4.09" fill="#c9c5bf"/>
<rect x="284.60" y="236.82" width="44.03" height="2.90" fill="#a62f1c"/>
<rect x="284.60" y="240.31" width="42.69" height="4.09" fill="#c9c5bf"/>
<rect x="284.60" y="240.91" width="42.39" height="2.90" fill="#a62f1c"/>
<rect x="284.3" y="160.6" width="134.50" height="86.00" fill="none" stroke="#2b2b2b" stroke-width="0.4"/>
<line x1="284.60" y1="246.6" x2="284.60" y2="247.90" stroke="#2b2b2b" stroke-width="0.35"/>
<text transform="translate(284.60,252.28) skewY(0.03) scale(0.1)" font-family="DejaVu Sans, Liberation Sans, sans-serif" font-size="35.00" text-anchor="middle" fill="#1a1a1a" stroke="#1a1a1a" stroke-width="0.60">0</text>
<line x1="301.03" y1="246.6" x2="301.03" y2="247.90" stroke="#2b2b2b" stroke-width="0.35"/>
<text transform="translate(301.03,252.28) skewY(0.03) scale(0.1)" font-family="DejaVu Sans, Liberation Sans, sans-serif" font-size="35.00" text-anchor="middle" fill="#1a1a1a" stroke="#1a1a1a" stroke-width="0.60">10</text>
<line x1="317.46" y1="246.6" x2="317.46" y2="247.90" stroke="#2b2b2b" stroke-width="0.35"/>
<text transform="translate(317.46,252.28) skewY(0.03) scale(0.1)" font-family="DejaVu Sans, Liberation Sans, sans-serif" font-size="35.00" text-anchor="middle" fill="#1a1a1a" stroke="#1a1a1a" stroke-width="0.60">20</text>
<line x1="333.89" y1="246.6" x2="333.89" y2="247.90" stroke="#2b2b2b" stroke-width="0.35"/>
<text transform="translate(333.89,252.28) skewY(0.03) scale(0.1)" font-family="DejaVu Sans, Liberation Sans, sans-serif" font-size="35.00" text-anchor="middle" fill="#1a1a1a" stroke="#1a1a1a" stroke-width="0.60">30</text>
<line x1="350.32" y1="246.6" x2="350.32" y2="247.90" stroke="#2b2b2b" stroke-width="0.35"/>
<text transform="translate(350.32,252.28) skewY(0.03) scale(0.1)" font-family="DejaVu Sans, Liberation Sans, sans-serif" font-size="35.00" text-anchor="middle" fill="#1a1a1a" stroke="#1a1a1a" stroke-width="0.60">40</text>
<line x1="366.75" y1="246.6" x2="366.75" y2="247.90" stroke="#2b2b2b" stroke-width="0.35"/>
<text transform="translate(366.75,252.28) skewY(0.03) scale(0.1)" font-family="DejaVu Sans, Liberation Sans, sans-serif" font-size="35.00" text-anchor="middle" fill="#1a1a1a" stroke="#1a1a1a" stroke-width="0.60">50</text>
<line x1="383.18" y1="246.6" x2="383.18" y2="247.90" stroke="#2b2b2b" stroke-width="0.35"/>
<text transform="translate(383.18,252.28) skewY(0.03) scale(0.1)" font-family="DejaVu Sans, Liberation Sans, sans-serif" font-size="35.00" text-anchor="middle" fill="#1a1a1a" stroke="#1a1a1a" stroke-width="0.60">60</text>
<line x1="399.61" y1="246.6" x2="399.61" y2="247.90" stroke="#2b2b2b" stroke-width="0.35"/>
<text transform="translate(399.61,252.28) skewY(0.03) scale(0.1)" font-family="DejaVu Sans, Liberation Sans, sans-serif" font-size="35.00" text-anchor="middle" fill="#1a1a1a" stroke="#1a1a1a" stroke-width="0.60">70</text>
<line x1="416.04" y1="246.6" x2="416.04" y2="247.90" stroke="#2b2b2b" stroke-width="0.35"/>
<text transform="translate(416.04,252.28) skewY(0.03) scale(0.1)" font-family="DejaVu Sans, Liberation Sans, sans-serif" font-size="35.00" text-anchor="middle" fill="#1a1a1a" stroke="#1a1a1a" stroke-width="0.60">80</text>
<text transform="translate(351.55,257.11) skewY(0.03) scale(0.1)" font-family="DejaVu Sans, Liberation Sans, sans-serif" font-size="37.00" text-anchor="middle" fill="#1a1a1a" stroke="#1a1a1a" stroke-width="0.50">-log10(P)</text>
<text transform="translate(419.40,165.78) skewY(0.03) scale(0.1)" font-family="DejaVu Sans, Liberation Sans, sans-serif" font-size="38.40" text-anchor="start" fill="#1a1a1a" stroke="#1a1a1a" stroke-width="0.60">GO:0042391: regulation of membrane potential</text>
<text transform="translate(419.40,169.93) skewY(0.03) scale(0.1)" font-family="DejaVu Sans, Liberation Sans, sans-serif" font-size="38.40" text-anchor="start" fill="#1a1a1a" stroke="#1a1a1a" stroke-width="0.60">GO:0034330: cell junction organization</text>
<text transform="translate(419.40,174.08) skewY(0.03) scale(0.1)" font-family="DejaVu Sans, Liberation Sans, sans-serif" font-size="38.40" text-anchor="start" fill="#1a1a1a" stroke="#1a1a1a" stroke-width="0.60">GO:0050804: modulation of chemical synaptic transmission</text>
<text transform="translate(419.40,178.23) skewY(0.03) scale(0.1)" font-family="DejaVu Sans, Liberation Sans, sans-serif" font-size="38.40" text-anchor="start" fill="#1a1a1a" stroke="#1a1a1a" stroke-width="0.60">GO:0044057: regulation of system process</text>
<text transform="translate(419.40,182.38) skewY(0.03) scale(0.1)" font-family="DejaVu Sans, Liberation Sans, sans-serif" font-size="38.40" text-anchor="start" fill="#1a1a1a" stroke="#1a1a1a" stroke-width="0.60">GO:0098660: inorganic ion transmembrane transport</text>
<text transform="translate(419.40,186.53) skewY(0.03) scale(0.1)" font-family="DejaVu Sans, Liberation Sans, sans-serif" font-size="38.40" text-anchor="start" fill="#1a1a1a" stroke="#1a1a1a" stroke-width="0.60">GO:0007610: behavior</text>
<text transform="translate(419.40,190.68) skewY(0.03) scale(0.1)" font-family="DejaVu Sans, Liberation Sans, sans-serif" font-size="38.40" text-anchor="start" fill="#1a1a1a" stroke="#1a1a1a" stroke-width="0.60">GO:0003012: muscle system process</text>
<text transform="translate(419.40,194.83) skewY(0.03) scale(0.1)" font-family="DejaVu Sans, Liberation Sans, sans-serif" font-size="38.40" text-anchor="start" fill="#1a1a1a" stroke="#1a1a1a" stroke-width="0.60">GO:0003013: circulatory system process</text>
<text transform="translate(419.40,198.98) skewY(0.03) scale(0.1)" font-family="DejaVu Sans, Liberation Sans, sans-serif" font-size="38.40" text-anchor="start" fill="#1a1a1a" stroke="#1a1a1a" stroke-width="0.60">GO:0061061: muscle structure development</text>
<text transform="translate(419.40,203.13) skewY(0.03) scale(0.1)" font-family="DejaVu Sans, Liberation Sans, sans-serif" font-size="38.40" text-anchor="start" fill="#1a1a1a" stroke="#1a1a1a" stroke-width="0.60">GO:0031175: neuron projection development</text>
<text transform="translate(419.40,207.28) skewY(0.03) scale(0.1)" font-family="DejaVu Sans, Liberation Sans, sans-serif" font-size="38.40" text-anchor="start" fill="#1a1a1a" stroke="#1a1a1a" stroke-width="0.60">GO:0043269: regulation of monoatomic ion transport</text>
<text transform="translate(419.40,211.43) skewY(0.03) scale(0.1)" font-family="DejaVu Sans, Liberation Sans, sans-serif" font-size="38.40" text-anchor="start" fill="#1a1a1a" stroke="#1a1a1a" stroke-width="0.60">GO:0098609: cell-cell adhesion</text>
<text transform="translate(419.40,215.58) skewY(0.03) scale(0.1)" font-family="DejaVu Sans, Liberation Sans, sans-serif" font-size="38.40" text-anchor="start" fill="#1a1a1a" stroke="#1a1a1a" stroke-width="0.60">GO:0048729: tissue morphogenesis</text>
<text transform="translate(419.40,219.73) skewY(0.03) scale(0.1)" font-family="DejaVu Sans, Liberation Sans, sans-serif" font-size="38.40" text-anchor="start" fill="#1a1a1a" stroke="#1a1a1a" stroke-width="0.60">GO:0035239: tube morphogenesis</text>
<text transform="translate(419.40,223.88) skewY(0.03) scale(0.1)" font-family="DejaVu Sans, Liberation Sans, sans-serif" font-size="38.40" text-anchor="start" fill="#1a1a1a" stroke="#1a1a1a" stroke-width="0.60">GO:0050803: regulation of synapse structure or activity</text>
<text transform="translate(419.40,228.03) skewY(0.03) scale(0.1)" font-family="DejaVu Sans, Liberation Sans, sans-serif" font-size="38.40" text-anchor="start" fill="#1a1a1a" stroke="#1a1a1a" stroke-width="0.60">GO:0007423: sensory organ development</text>
<text transform="translate(419.40,232.18) skewY(0.03) scale(0.1)" font-family="DejaVu Sans, Liberation Sans, sans-serif" font-size="38.40" text-anchor="start" fill="#1a1a1a" stroke="#1a1a1a" stroke-width="0.60">GO:0001501: skeletal system development</text>
<text transform="translate(419.40,236.33) skewY(0.03) scale(0.1)" font-family="DejaVu Sans, Liberation Sans, sans-serif" font-size="38.40" text-anchor="start" fill="#1a1a1a" stroke="#1a1a1a" stroke-width="0.60">GO:0046903: secretion</text>
<text transform="translate(419.40,240.48) skewY(0.03) scale(0.1)" font-family="DejaVu Sans, Liberation Sans, sans-serif" font-size="38.40" text-anchor="start" fill="#1a1a1a" stroke="#1a1a1a" stroke-width="0.60">hsa04820: Cytoskeleton in muscle cells</text>
<text transform="translate(419.40,244.63) skewY(0.03) scale(0.1)" font-family="DejaVu Sans, Liberation Sans, sans-serif" font-size="38.40" text-anchor="start" fill="#1a1a1a" stroke="#1a1a1a" stroke-width="0.60">GO:0019226: transmission of nerve impulse</text>
<line x1="46.86" y1="265.3" x2="46.86" y2="361.4" stroke="#909090" stroke-width="0.38"/>
<line x1="59.29" y1="265.3" x2="59.29" y2="361.4" stroke="#909090" stroke-width="0.38"/>
<line x1="71.72" y1="265.3" x2="71.72" y2="361.4" stroke="#909090" stroke-width="0.38"/>
<line x1="96.58" y1="265.3" x2="96.58" y2="361.4" stroke="#909090" stroke-width="0.38"/>
<line x1="146.30" y1="265.3" x2="146.30" y2="361.4" stroke="#909090" stroke-width="0.38"/>
<rect x="22.00" y="267.61" width="122.86" height="4.59" fill="#b1aba6"/>
<rect x="22.00" y="268.30" width="122.56" height="3.20" fill="#f6922d"/>
<rect x="22.00" y="272.19" width="118.88" height="4.59" fill="#b1aba6"/>
<rect x="22.00" y="272.89" width="118.58" height="3.20" fill="#f6922d"/>
<rect x="22.00" y="276.79" width="99.49" height="4.59" fill="#b1aba6"/>
<rect x="22.00" y="277.48" width="99.19" height="3.20" fill="#f6922d"/>
<rect x="22.00" y="281.38" width="80.85" height="4.59" fill="#b1aba6"/>
<rect x="22.00" y="282.07" width="80.55" height="3.20" fill="#f6922d"/>
<rect x="22.00" y="285.97" width="76.87" height="4.59" fill="#b1aba6"/>
<rect x="22.00" y="286.66" width="76.57" height="3.20" fill="#f6922d"/>
<rect x="22.00" y="290.56" width="75.13" height="4.59" fill="#b1aba6"/>
<rect x="22.00" y="291.25" width="74.83" height="3.20" fill="#f6922d"/>
<rect x="22.00" y="295.15" width="66.68" height="4.59" fill="#b1aba6"/>
<rect x="22.00" y="295.84" width="66.38" height="3.20" fill="#fdba42"/>
<rect x="22.00" y="299.74" width="66.05" height="4.59" fill="#b1aba6"/>
<rect x="22.00" y="300.43" width="65.75" height="3.20" fill="#fdba42"/>
<rect x="22.00" y="304.32" width="63.69" height="4.59" fill="#b1aba6"/>
<rect x="22.00" y="305.02" width="63.39" height="3.20" fill="#fdba42"/>
<rect x="22.00" y="308.92" width="62.33" height="4.59" fill="#b1aba6"/>
<rect x="22.00" y="309.61" width="62.03" height="3.20" fill="#fdba42"/>
<rect x="22.00" y="313.50" width="61.58" height="4.59" fill="#b1aba6"/>
<rect x="22.00" y="314.20" width="61.28" height="3.20" fill="#fdba42"/>
<rect x="22.00" y="318.10" width="60.59" height="4.59" fill="#b1aba6"/>
<rect x="22.00" y="318.79" width="60.29" height="3.20" fill="#fdba42"/>
<rect x="22.00" y="322.69" width="58.60" height="4.59" fill="#b1aba6"/>
<rect x="22.00" y="323.38" width="58.30" height="3.20" fill="#fdba42"/>
<rect x="22.00" y="327.28" width="53.50" height="4.59" fill="#b1aba6"/>
<rect x="22.00" y="327.97" width="53.20" height="3.20" fill="#fdba42"/>
<rect x="22.00" y="331.87" width="52.75" height="4.59" fill="#b1aba6"/>
<rect x="22.00" y="332.56" width="52.45" height="3.20" fill="#fdba42"/>
<rect x="22.00" y="336.45" width="52.51" height="4.59" fill="#b1aba6"/>
<rect x="22.00" y="337.15" width="52.21" height="3.20" fill="#fdba42"/>
<rect x="22.00" y="341.05" width="50.77" height="4.59" fill="#b1aba6"/>
<rect x="22.00" y="341.74" width="50.47" height="3.20" fill="#fdba42"/>
<rect x="22.00" y="345.64" width="50.02" height="4.59" fill="#b1aba6"/>
<rect x="22.00" y="346.33" width="49.72" height="3.20" fill="#fdba42"/>
<rect x="22.00" y="350.23" width="45.05" height="4.59" fill="#b1aba6"/>
<rect x="22.00" y="350.92" width="44.75" height="3.20" fill="#fdd27d"/>
<rect x="22.00" y="354.81" width="44.68" height="4.59" fill="#b1aba6"/>
<rect x="22.00" y="355.51" width="44.38" height="3.20" fill="#fdd27d"/>
<rect x="21.4" y="265.3" width="129.10" height="96.10" fill="none" stroke="#2b2b2b" stroke-width="0.4"/>
<line x1="22.00" y1="361.4" x2="22.00" y2="362.70" stroke="#2b2b2b" stroke-width="0.35"/>
<text transform="translate(22.00,367.67) skewY(0.03) scale(0.1)" font-family="DejaVu Sans, Liberation Sans, sans-serif" font-size="43.00" text-anchor="middle" fill="#1a1a1a" stroke="#1a1a1a" stroke-width="0.60">0</text>
<line x1="46.86" y1="361.4" x2="46.86" y2="362.70" stroke="#2b2b2b" stroke-width="0.35"/>
<text transform="translate(46.86,367.67) skewY(0.03) scale(0.1)" font-family="DejaVu Sans, Liberation Sans, sans-serif" font-size="43.00" text-anchor="middle" fill="#1a1a1a" stroke="#1a1a1a" stroke-width="0.60">2</text>
<line x1="71.72" y1="361.4" x2="71.72" y2="362.70" stroke="#2b2b2b" stroke-width="0.35"/>
<text transform="translate(71.72,367.67) skewY(0.03) scale(0.1)" font-family="DejaVu Sans, Liberation Sans, sans-serif" font-size="43.00" text-anchor="middle" fill="#1a1a1a" stroke="#1a1a1a" stroke-width="0.60">4</text>
<line x1="96.58" y1="361.4" x2="96.58" y2="362.70" stroke="#2b2b2b" stroke-width="0.35"/>
<text transform="translate(96.58,367.67) skewY(0.03) scale(0.1)" font-family="DejaVu Sans, Liberation Sans, sans-serif" font-size="43.00" text-anchor="middle" fill="#1a1a1a" stroke="#1a1a1a" stroke-width="0.60">6</text>
<line x1="121.44" y1="361.4" x2="121.44" y2="362.70" stroke="#2b2b2b" stroke-width="0.35"/>
<text transform="translate(121.44,367.67) skewY(0.03) scale(0.1)" font-family="DejaVu Sans, Liberation Sans, sans-serif" font-size="43.00" text-anchor="middle" fill="#1a1a1a" stroke="#1a1a1a" stroke-width="0.60">8</text>
<line x1="146.30" y1="361.4" x2="146.30" y2="362.70" stroke="#2b2b2b" stroke-width="0.35"/>
<text transform="translate(146.30,367.67) skewY(0.03) scale(0.1)" font-family="DejaVu Sans, Liberation Sans, sans-serif" font-size="43.00" text-anchor="middle" fill="#1a1a1a" stroke="#1a1a1a" stroke-width="0.60">10</text>
<text transform="translate(85.95,372.41) skewY(0.03) scale(0.1)" font-family="DejaVu Sans, Liberation Sans, sans-serif" font-size="37.00" text-anchor="middle" fill="#1a1a1a" stroke="#1a1a1a" stroke-width="0.50">-log10(P)</text>
<text transform="translate(152.00,271.18) skewY(0.03) scale(0.1)" font-family="DejaVu Sans, Liberation Sans, sans-serif" font-size="38.40" text-anchor="start" fill="#1a1a1a" stroke="#1a1a1a" stroke-width="0.60">GO:0030001: metal ion transport</text>
<text transform="translate(152.00,275.77) skewY(0.03) scale(0.1)" font-family="DejaVu Sans, Liberation Sans, sans-serif" font-size="38.40" text-anchor="start" fill="#1a1a1a" stroke="#1a1a1a" stroke-width="0.60">GO:0014706: striated muscle tissue development</text>
<text transform="translate(152.00,280.35) skewY(0.03) scale(0.1)" font-family="DejaVu Sans, Liberation Sans, sans-serif" font-size="38.40" text-anchor="start" fill="#1a1a1a" stroke="#1a1a1a" stroke-width="0.60">hsa04080: Neuroactive ligand-receptor interaction</text>
<text transform="translate(152.00,284.94) skewY(0.03) scale(0.1)" font-family="DejaVu Sans, Liberation Sans, sans-serif" font-size="38.40" text-anchor="start" fill="#1a1a1a" stroke="#1a1a1a" stroke-width="0.60">GO:0030855: epithelial cell differentiation</text>
<text transform="translate(152.00,289.52) skewY(0.03) scale(0.1)" font-family="DejaVu Sans, Liberation Sans, sans-serif" font-size="38.40" text-anchor="start" fill="#1a1a1a" stroke="#1a1a1a" stroke-width="0.60">GO:0048738: cardiac muscle tissue development</text>
<text transform="translate(152.00,294.11) skewY(0.03) scale(0.1)" font-family="DejaVu Sans, Liberation Sans, sans-serif" font-size="38.40" text-anchor="start" fill="#1a1a1a" stroke="#1a1a1a" stroke-width="0.60">GO:0098739: import across plasma membrane</text>
<text transform="translate(152.00,298.69) skewY(0.03) scale(0.1)" font-family="DejaVu Sans, Liberation Sans, sans-serif" font-size="38.40" text-anchor="start" fill="#1a1a1a" stroke="#1a1a1a" stroke-width="0.60">GO:0007586: digestion</text>
<text transform="translate(152.00,303.28) skewY(0.03) scale(0.1)" font-family="DejaVu Sans, Liberation Sans, sans-serif" font-size="38.40" text-anchor="start" fill="#1a1a1a" stroke="#1a1a1a" stroke-width="0.60">GO:0099505: regulation of presynaptic membrane potential</text>
<text transform="translate(152.00,307.86) skewY(0.03) scale(0.1)" font-family="DejaVu Sans, Liberation Sans, sans-serif" font-size="38.40" text-anchor="start" fill="#1a1a1a" stroke="#1a1a1a" stroke-width="0.60">GO:0015698: inorganic anion transport</text>
<text transform="translate(152.00,312.45) skewY(0.03) scale(0.1)" font-family="DejaVu Sans, Liberation Sans, sans-serif" font-size="38.40" text-anchor="start" fill="#1a1a1a" stroke="#1a1a1a" stroke-width="0.60">hsa04978: Mineral absorption</text>
<text transform="translate(152.00,317.03) skewY(0.03) scale(0.1)" font-family="DejaVu Sans, Liberation Sans, sans-serif" font-size="38.40" text-anchor="start" fill="#1a1a1a" stroke="#1a1a1a" stroke-width="0.60">GO:0170041: non-proteinogenic amino acid metabolic process</text>
<text transform="translate(152.00,321.62) skewY(0.03) scale(0.1)" font-family="DejaVu Sans, Liberation Sans, sans-serif" font-size="38.40" text-anchor="start" fill="#1a1a1a" stroke="#1a1a1a" stroke-width="0.60">GO:0015850: organic hydroxy compound transport</text>
<text transform="translate(152.00,326.20) skewY(0.03) scale(0.1)" font-family="DejaVu Sans, Liberation Sans, sans-serif" font-size="38.40" text-anchor="start" fill="#1a1a1a" stroke="#1a1a1a" stroke-width="0.60">GO:0048729: tissue morphogenesis</text>
<text transform="translate(152.00,330.79) skewY(0.03) scale(0.1)" font-family="DejaVu Sans, Liberation Sans, sans-serif" font-size="38.40" text-anchor="start" fill="#1a1a1a" stroke="#1a1a1a" stroke-width="0.60">GO:0045165: cell fate commitment</text>
<text transform="translate(152.00,335.37) skewY(0.03) scale(0.1)" font-family="DejaVu Sans, Liberation Sans, sans-serif" font-size="38.40" text-anchor="start" fill="#1a1a1a" stroke="#1a1a1a" stroke-width="0.60">GO:0019725: cellular homeostasis</text>
<text transform="translate(152.00,339.96) skewY(0.03) scale(0.1)" font-family="DejaVu Sans, Liberation Sans, sans-serif" font-size="38.40" text-anchor="start" fill="#1a1a1a" stroke="#1a1a1a" stroke-width="0.60">GO:0007610: behavior</text>
<text transform="translate(152.00,344.54) skewY(0.03) scale(0.1)" font-family="DejaVu Sans, Liberation Sans, sans-serif" font-size="38.40" text-anchor="start" fill="#1a1a1a" stroke="#1a1a1a" stroke-width="0.60">GO:1902656: calcium ion import into cytosol</text>
<text transform="translate(152.00,349.13) skewY(0.03) scale(0.1)" font-family="DejaVu Sans, Liberation Sans, sans-serif" font-size="38.40" text-anchor="start" fill="#1a1a1a" stroke="#1a1a1a" stroke-width="0.60">GO:0030198: extracellular matrix organization</text>
<text transform="translate(152.00,353.71) skewY(0.03) scale(0.1)" font-family="DejaVu Sans, Liberation Sans, sans-serif" font-size="38.40" text-anchor="start" fill="#1a1a1a" stroke="#1a1a1a" stroke-width="0.60">GO:0048839: inner ear development</text>
<text transform="translate(152.00,358.30) skewY(0.03) scale(0.1)" font-family="DejaVu Sans, Liberation Sans, sans-serif" font-size="38.40" text-anchor="start" fill="#1a1a1a" stroke="#1a1a1a" stroke-width="0.60">GO:0060322: head development</text>
<line x1="288.77" y1="264.2" x2="288.77" y2="362.3" stroke="#909090" stroke-width="0.38"/>
<line x1="290.95" y1="264.2" x2="290.95" y2="362.3" stroke="#909090" stroke-width="0.38"/>
<line x1="293.13" y1="264.2" x2="293.13" y2="362.3" stroke="#909090" stroke-width="0.38"/>
<line x1="297.50" y1="264.2" x2="297.50" y2="362.3" stroke="#909090" stroke-width="0.38"/>
<line x1="306.23" y1="264.2" x2="306.23" y2="362.3" stroke="#909090" stroke-width="0.38"/>
<line x1="328.06" y1="264.2" x2="328.06" y2="362.3" stroke="#909090" stroke-width="0.38"/>
<rect x="284.40" y="266.05" width="127.57" height="4.71" fill="#c9c5bf"/>
<rect x="284.40" y="266.80" width="127.27" height="3.20" fill="#a62f1c"/>
<rect x="284.40" y="270.75" width="107.70" height="4.71" fill="#c9c5bf"/>
<rect x="284.40" y="271.51" width="107.40" height="3.20" fill="#a62f1c"/>
<rect x="284.40" y="275.47" width="105.08" height="4.71" fill="#c9c5bf"/>
<rect x="284.40" y="276.22" width="104.78" height="3.20" fill="#a62f1c"/>
<rect x="284.40" y="280.18" width="78.67" height="4.71" fill="#c9c5bf"/>
<rect x="284.40" y="280.93" width="78.37" height="3.20" fill="#a62f1c"/>
<rect x="284.40" y="284.88" width="72.99" height="4.71" fill="#c9c5bf"/>
<rect x="284.40" y="285.64" width="72.69" height="3.20" fill="#a62f1c"/>
<rect x="284.40" y="289.60" width="72.34" height="4.71" fill="#c9c5bf"/>
<rect x="284.40" y="290.35" width="72.04" height="3.20" fill="#a62f1c"/>
<rect x="284.40" y="294.31" width="71.68" height="4.71" fill="#c9c5bf"/>
<rect x="284.40" y="295.06" width="71.38" height="3.20" fill="#a62f1c"/>
<rect x="284.40" y="299.01" width="70.81" height="4.71" fill="#c9c5bf"/>
<rect x="284.40" y="299.77" width="70.51" height="3.20" fill="#a62f1c"/>
<rect x="284.40" y="303.73" width="70.59" height="4.71" fill="#c9c5bf"/>
<rect x="284.40" y="304.48" width="70.29" height="3.20" fill="#a62f1c"/>
<rect x="284.40" y="308.44" width="69.94" height="4.71" fill="#c9c5bf"/>
<rect x="284.40" y="309.19" width="69.64" height="3.20" fill="#a62f1c"/>
<rect x="284.40" y="313.15" width="69.50" height="4.71" fill="#c9c5bf"/>
<rect x="284.40" y="313.90" width="69.20" height="3.20" fill="#a62f1c"/>
<rect x="284.40" y="317.86" width="68.85" height="4.71" fill="#c9c5bf"/>
<rect x="284.40" y="318.61" width="68.55" height="3.20" fill="#a62f1c"/>
<rect x="284.40" y="322.56" width="67.10" height="4.71" fill="#c9c5bf"/>
<rect x="284.40" y="323.32" width="66.80" height="3.20" fill="#a62f1c"/>
<rect x="284.40" y="327.28" width="66.44" height="4.71" fill="#c9c5bf"/>
<rect x="284.40" y="328.03" width="66.14" height="3.20" fill="#a62f1c"/>
<rect x="284.40" y="331.99" width="66.23" height="4.71" fill="#c9c5bf"/>
<rect x="284.40" y="332.74" width="65.93" height="3.20" fill="#a62f1c"/>
<rect x="284.40" y="336.70" width="65.79" height="4.71" fill="#c9c5bf"/>
<rect x="284.40" y="337.45" width="65.49" height="3.20" fill="#a62f1c"/>
<rect x="284.40" y="341.41" width="65.57" height="4.71" fill="#c9c5bf"/>
<rect x="284.40" y="342.16" width="65.27" height="3.20" fill="#a62f1c"/>
<rect x="284.40" y="346.12" width="65.14" height="4.71" fill="#c9c5bf"/>
<rect x="284.40" y="346.87" width="64.84" height="3.20" fill="#a62f1c"/>
<rect x="284.40" y="350.83" width="64.70" height="4.71" fill="#c9c5bf"/>
<rect x="284.40" y="351.58" width="64.40" height="3.20" fill="#a62f1c"/>
<rect x="284.40" y="355.54" width="59.68" height="4.71" fill="#c9c5bf"/>
<rect x="284.40" y="356.29" width="59.38" height="3.20" fill="#a62f1c"/>
<rect x="284.3" y="264.2" width="133.20" height="98.10" fill="none" stroke="#2b2b2b" stroke-width="0.4"/>
<line x1="284.40" y1="362.3" x2="284.40" y2="363.60" stroke="#2b2b2b" stroke-width="0.35"/>
<text transform="translate(284.40,368.76) skewY(0.03) scale(0.1)" font-family="DejaVu Sans, Liberation Sans, sans-serif" font-size="40.00" text-anchor="middle" fill="#1a1a1a" stroke="#1a1a1a" stroke-width="0.60">0</text>
<line x1="306.23" y1="362.3" x2="306.23" y2="363.60" stroke="#2b2b2b" stroke-width="0.35"/>
<text transform="translate(306.23,368.76) skewY(0.03) scale(0.1)" font-family="DejaVu Sans, Liberation Sans, sans-serif" font-size="40.00" text-anchor="middle" fill="#1a1a1a" stroke="#1a1a1a" stroke-width="0.60">10</text>
<line x1="328.06" y1="362.3" x2="328.06" y2="363.60" stroke="#2b2b2b" stroke-width="0.35"/>
<text transform="translate(328.06,368.76) skewY(0.03) scale(0.1)" font-family="DejaVu Sans, Liberation Sans, sans-serif" font-size="40.00" text-anchor="middle" fill="#1a1a1a" stroke="#1a1a1a" stroke-width="0.60">20</text>
<line x1="349.89" y1="362.3" x2="349.89" y2="363.60" stroke="#2b2b2b" stroke-width="0.35"/>
<text transform="translate(349.89,368.76) skewY(0.03) scale(0.1)" font-family="DejaVu Sans, Liberation Sans, sans-serif" font-size="40.00" text-anchor="middle" fill="#1a1a1a" stroke="#1a1a1a" stroke-width="0.60">30</text>
<line x1="371.72" y1="362.3" x2="371.72" y2="363.60" stroke="#2b2b2b" stroke-width="0.35"/>
<text transform="translate(371.72,368.76) skewY(0.03) scale(0.1)" font-family="DejaVu Sans, Liberation Sans, sans-serif" font-size="40.00" text-anchor="middle" fill="#1a1a1a" stroke="#1a1a1a" stroke-width="0.60">40</text>
<line x1="393.55" y1="362.3" x2="393.55" y2="363.60" stroke="#2b2b2b" stroke-width="0.35"/>
<text transform="translate(393.55,368.76) skewY(0.03) scale(0.1)" font-family="DejaVu Sans, Liberation Sans, sans-serif" font-size="40.00" text-anchor="middle" fill="#1a1a1a" stroke="#1a1a1a" stroke-width="0.60">50</text>
<line x1="415.38" y1="362.3" x2="415.38" y2="363.60" stroke="#2b2b2b" stroke-width="0.35"/>
<text transform="translate(415.38,368.76) skewY(0.03) scale(0.1)" font-family="DejaVu Sans, Liberation Sans, sans-serif" font-size="40.00" text-anchor="middle" fill="#1a1a1a" stroke="#1a1a1a" stroke-width="0.60">60</text>
<text transform="translate(350.90,373.71) skewY(0.03) scale(0.1)" font-family="DejaVu Sans, Liberation Sans, sans-serif" font-size="37.00" text-anchor="middle" fill="#1a1a1a" stroke="#1a1a1a" stroke-width="0.50">-log10(P)</text>
<text transform="translate(418.80,269.92) skewY(0.03) scale(0.1)" font-family="DejaVu Sans, Liberation Sans, sans-serif" font-size="39.50" text-anchor="start" fill="#1a1a1a" stroke="#1a1a1a" stroke-width="0.60">GO:0030001: metal ion transport</text>
<text transform="translate(418.80,274.63) skewY(0.03) scale(0.1)" font-family="DejaVu Sans, Liberation Sans, sans-serif" font-size="39.50" text-anchor="start" fill="#1a1a1a" stroke="#1a1a1a" stroke-width="0.60">GO:0050865: regulation of cell activation</text>
<text transform="translate(418.80,279.34) skewY(0.03) scale(0.1)" font-family="DejaVu Sans, Liberation Sans, sans-serif" font-size="39.50" text-anchor="start" fill="#1a1a1a" stroke="#1a1a1a" stroke-width="0.60">GO:0045321: leukocyte activation</text>
<text transform="translate(418.80,284.05) skewY(0.03) scale(0.1)" font-family="DejaVu Sans, Liberation Sans, sans-serif" font-size="39.50" text-anchor="start" fill="#1a1a1a" stroke="#1a1a1a" stroke-width="0.60">GO:0006954: inflammatory response</text>
<text transform="translate(418.80,288.76) skewY(0.03) scale(0.1)" font-family="DejaVu Sans, Liberation Sans, sans-serif" font-size="39.50" text-anchor="start" fill="#1a1a1a" stroke="#1a1a1a" stroke-width="0.60">GO:0040011: locomotion</text>
<text transform="translate(418.80,293.47) skewY(0.03) scale(0.1)" font-family="DejaVu Sans, Liberation Sans, sans-serif" font-size="39.50" text-anchor="start" fill="#1a1a1a" stroke="#1a1a1a" stroke-width="0.60">GO:0098657: import into cell</text>
<text transform="translate(418.80,298.18) skewY(0.03) scale(0.1)" font-family="DejaVu Sans, Liberation Sans, sans-serif" font-size="39.50" text-anchor="start" fill="#1a1a1a" stroke="#1a1a1a" stroke-width="0.60">GO:0001819: positive regulation of cytokine production</text>
<text transform="translate(418.80,302.89) skewY(0.03) scale(0.1)" font-family="DejaVu Sans, Liberation Sans, sans-serif" font-size="39.50" text-anchor="start" fill="#1a1a1a" stroke="#1a1a1a" stroke-width="0.60">GO:0015711: organic anion transport</text>
<text transform="translate(418.80,307.60) skewY(0.03) scale(0.1)" font-family="DejaVu Sans, Liberation Sans, sans-serif" font-size="39.50" text-anchor="start" fill="#1a1a1a" stroke="#1a1a1a" stroke-width="0.60">GO:0042391: regulation of membrane potential</text>
<text transform="translate(418.80,312.31) skewY(0.03) scale(0.1)" font-family="DejaVu Sans, Liberation Sans, sans-serif" font-size="39.50" text-anchor="start" fill="#1a1a1a" stroke="#1a1a1a" stroke-width="0.60">GO:0030029: actin filament-based process</text>
<text transform="translate(418.80,317.02) skewY(0.03) scale(0.1)" font-family="DejaVu Sans, Liberation Sans, sans-serif" font-size="39.50" text-anchor="start" fill="#1a1a1a" stroke="#1a1a1a" stroke-width="0.60">GO:0044057: regulation of system process</text>
<text transform="translate(418.80,321.73) skewY(0.03) scale(0.1)" font-family="DejaVu Sans, Liberation Sans, sans-serif" font-size="39.50" text-anchor="start" fill="#1a1a1a" stroke="#1a1a1a" stroke-width="0.60">GO:0071345: cellular response to cytokine stimulus</text>
<text transform="translate(418.80,326.44) skewY(0.03) scale(0.1)" font-family="DejaVu Sans, Liberation Sans, sans-serif" font-size="39.50" text-anchor="start" fill="#1a1a1a" stroke="#1a1a1a" stroke-width="0.60">GO:0040017: positive regulation of locomotion</text>
<text transform="translate(418.80,331.15) skewY(0.03) scale(0.1)" font-family="DejaVu Sans, Liberation Sans, sans-serif" font-size="39.50" text-anchor="start" fill="#1a1a1a" stroke="#1a1a1a" stroke-width="0.60">GO:0002683: negative regulation of immune system process</text>
<text transform="translate(418.80,335.86) skewY(0.03) scale(0.1)" font-family="DejaVu Sans, Liberation Sans, sans-serif" font-size="39.50" text-anchor="start" fill="#1a1a1a" stroke="#1a1a1a" stroke-width="0.60">GO:0008285: negative regulation of cell population proliferation</text>
<text transform="translate(418.80,340.57) skewY(0.03) scale(0.1)" font-family="DejaVu Sans, Liberation Sans, sans-serif" font-size="39.50" text-anchor="start" fill="#1a1a1a" stroke="#1a1a1a" stroke-width="0.60">GO:0043408: regulation of MAPK cascade</text>
<text transform="translate(418.80,345.28) skewY(0.03) scale(0.1)" font-family="DejaVu Sans, Liberation Sans, sans-serif" font-size="39.50" text-anchor="start" fill="#1a1a1a" stroke="#1a1a1a" stroke-width="0.60">GO:0050778: positive regulation of immune response</text>
<text transform="translate(418.80,349.99) skewY(0.03) scale(0.1)" font-family="DejaVu Sans, Liberation Sans, sans-serif" font-size="39.50" text-anchor="start" fill="#1a1a1a" stroke="#1a1a1a" stroke-width="0.60">GO:0010817: regulation of hormone levels</text>
<text transform="translate(418.80,354.70) skewY(0.03) scale(0.1)" font-family="DejaVu Sans, Liberation Sans, sans-serif" font-size="39.50" text-anchor="start" fill="#1a1a1a" stroke="#1a1a1a" stroke-width="0.60">GO:0002697: regulation of immune effector process</text>
<text transform="translate(418.80,359.41) skewY(0.03) scale(0.1)" font-family="DejaVu Sans, Liberation Sans, sans-serif" font-size="39.50" text-anchor="start" fill="#1a1a1a" stroke="#1a1a1a" stroke-width="0.60">GO:0043269: regulation of monoatomic ion transport</text>
<defs><clipPath id="cr"><circle cx="457.6" cy="55.0" r="38.4"/></clipPath><clipPath id="cbl"><circle cx="494.9" cy="55.0" r="38.4"/></clipPath></defs>
<circle cx="457.6" cy="55.0" r="38.4" fill="#e9714b"/>
<circle cx="494.9" cy="55.0" r="38.4" fill="#2ea1e1"/>
<circle cx="476.1" cy="87.6" r="38.4" fill="#8dc030"/>
<circle cx="494.9" cy="55.0" r="38.4" fill="#3287c0" clip-path="url(#cr)"/>
<circle cx="476.1" cy="87.6" r="38.4" fill="#7b9a20" clip-path="url(#cr)"/>
<circle cx="476.1" cy="87.6" r="38.4" fill="#52a92f" clip-path="url(#cbl)"/>
<g clip-path="url(#cr)"><circle cx="476.1" cy="87.6" r="38.4" fill="#4d9a2b" clip-path="url(#cbl)"/></g>
<circle cx="457.6" cy="55.0" r="38.4" fill="none" stroke="#1a1a1a" stroke-width="0.95"/>
<circle cx="494.9" cy="55.0" r="38.4" fill="none" stroke="#1a1a1a" stroke-width="0.95"/>
<circle cx="476.1" cy="87.6" r="38.4" fill="none" stroke="#1a1a1a" stroke-width="0.95"/>
<text transform="translate(440.00,47.15) skewY(0.03) scale(0.1)" font-family="Liberation Serif, serif" font-size="64.00" text-anchor="middle" fill="#222" stroke="#222" stroke-width="0.60">637</text>
<text transform="translate(476.40,37.15) skewY(0.03) scale(0.1)" font-family="Liberation Serif, serif" font-size="64.00" text-anchor="middle" fill="#222" stroke="#222" stroke-width="0.60">1492</text>
<text transform="translate(512.20,47.15) skewY(0.03) scale(0.1)" font-family="Liberation Serif, serif" font-size="64.00" text-anchor="middle" fill="#222" stroke="#222" stroke-width="0.60">188</text>
<text transform="translate(476.00,67.95) skewY(0.03) scale(0.1)" font-family="Liberation Serif, serif" font-size="64.00" text-anchor="middle" fill="#222" stroke="#222" stroke-width="0.60">94</text>
<text transform="translate(449.80,82.95) skewY(0.03) scale(0.1)" font-family="Liberation Serif, serif" font-size="64.00" text-anchor="middle" fill="#222" stroke="#222" stroke-width="0.60">145</text>
<text transform="translate(502.80,82.95) skewY(0.03) scale(0.1)" font-family="Liberation Serif, serif" font-size="64.00" text-anchor="middle" fill="#222" stroke="#222" stroke-width="0.60">48</text>
<text transform="translate(476.00,109.75) skewY(0.03) scale(0.1)" font-family="Liberation Serif, serif" font-size="64.00" text-anchor="middle" fill="#222" stroke="#222" stroke-width="0.60">33</text>
<text transform="translate(421.00,15.85) skewY(0.03) scale(0.1)" font-family="Liberation Sans, sans-serif" font-size="39.00" text-anchor="middle" fill="#222" stroke="#222" stroke-width="0.50">Duo-Jej</text>
<text transform="translate(531.40,15.95) skewY(0.03) scale(0.1)" font-family="Liberation Sans, sans-serif" font-size="39.00" text-anchor="middle" fill="#222" stroke="#222" stroke-width="0.50">Duo-Ile</text>
<text transform="translate(478.80,131.75) skewY(0.03) scale(0.1)" font-family="Liberation Sans, sans-serif" font-size="39.00" text-anchor="middle" fill="#222" stroke="#222" stroke-width="0.50">Jej-Ile</text>
</g>
</svg>
</body></html>
